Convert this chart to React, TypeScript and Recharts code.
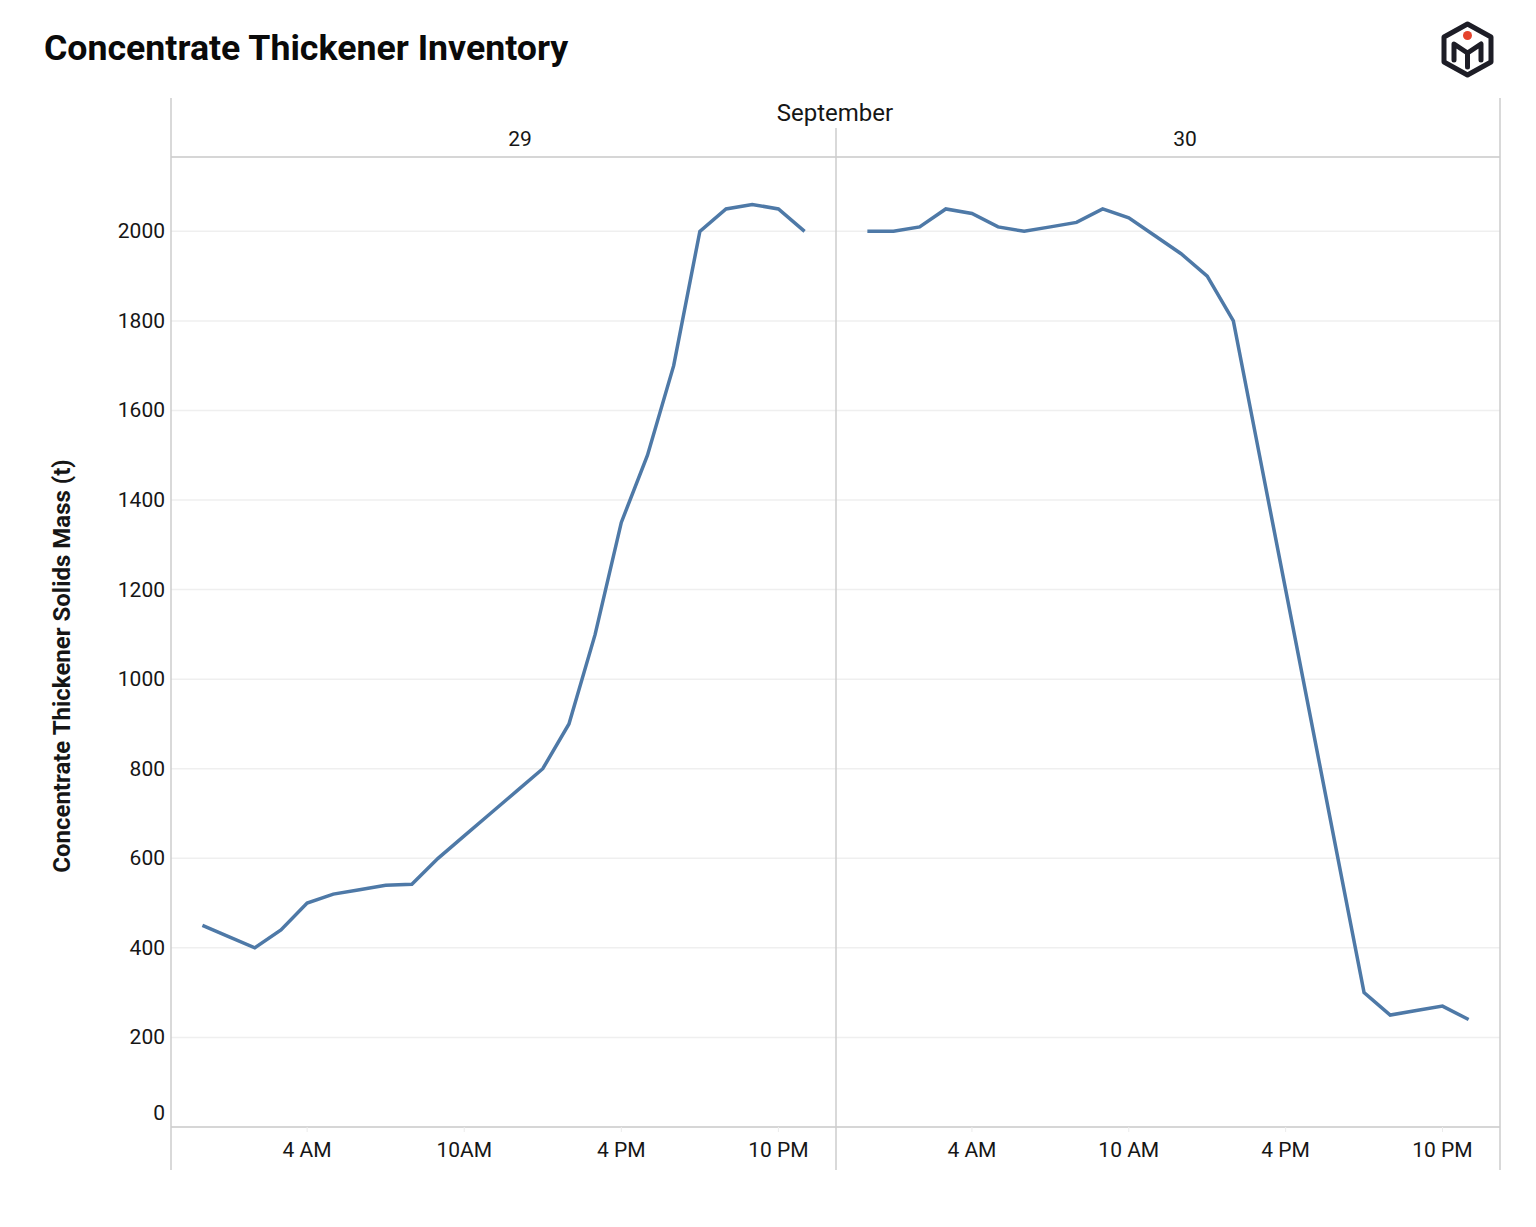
import React from 'react';
import { LineChart, Line, XAxis, YAxis, CartesianGrid } from 'recharts';

// Hour of day for each reading
const hours = [0, 1, 2, 3, 4, 5, 6, 7, 8, 9, 10, 11, 12, 13, 14, 15, 16, 17, 18, 19, 20, 21, 22, 23];

// Concentrate thickener solids mass (t), September 29
const sep29Mass = [450, 425, 400, 440, 500, 520, 530, 540, 542, 600, 650, 700, 750, 800, 900, 1100, 1350, 1500, 1700, 2000, 2050, 2060, 2050, 2000];

// Concentrate thickener solids mass (t), September 30
const sep30Mass = [2000, 2000, 2010, 2050, 2040, 2010, 2000, 2010, 2020, 2050, 2030, 1990, 1950, 1900, 1800, 1500, 1200, 900, 600, 300, 250, 260, 270, 240];

const yTicks = [0, 200, 400, 600, 800, 1000, 1200, 1400, 1600, 1800, 2000];
const xTicks = [4, 10, 16, 22];
const sep29TickLabels = ['4 AM', '10AM', '4 PM', '10 PM'];
const sep30TickLabels = ['4 AM', '10 AM', '4 PM', '10 PM'];

const panelHeaders = ['29', '30'];
const monthLabel = 'September';
const title = 'Concentrate Thickener Inventory';
const yLabel = 'Concentrate Thickener Solids Mass (t)';

const sep29Data = hours.map((h, i) => ({ hour: h, mass: sep29Mass[i] }));
const sep30Data = hours.map((h, i) => ({ hour: h, mass: sep30Mass[i] }));

const FONT = 'Roboto, "Noto Sans", Arial, sans-serif';
const TEXT = '#161616';
const LINE = '#4e79a7';
const RULE = '#cdcdcd';
const GRID = '#efefef';

const X_DOMAIN: [number, number] = [-1.2, 24.2];
const Y_DOMAIN: [number, number] = [0, 2166];

const YTick = (props: any) => {
  const { x, y, payload } = props;
  const yy = payload.value === 0 ? y - 14 : y;
  return (
    <text x={x} y={yy} textAnchor="end" dominantBaseline="central" fontSize={21} fontFamily={FONT} fill={TEXT}>
      {payload.value}
    </text>
  );
};

const Panel = ({ data, labels, showY, width, left }: any) => (
  <div style={{ position: 'absolute', left, top: 0 }}>
    <LineChart width={width} height={1227} data={data} margin={{ top: 157, right: 0, bottom: 0, left: 0 }}>
      <CartesianGrid horizontal vertical={false} stroke={GRID} strokeWidth={1.5} />
      <XAxis
        type="number"
        dataKey="hour"
        domain={X_DOMAIN}
        ticks={xTicks}
        interval={0}
        allowDataOverflow
        height={100}
        tickFormatter={(v: number) => labels[xTicks.indexOf(v)]}
        axisLine={{ stroke: RULE, strokeWidth: 1.5 }}
        tickLine={{ stroke: '#ececec' }}
        tickSize={5}
        tickMargin={10}
        tick={{ fill: TEXT, fontSize: 21, fontFamily: FONT }}
      />
      <YAxis
        type="number"
        domain={Y_DOMAIN}
        ticks={yTicks}
        interval={0}
        allowDataOverflow
        hide={!showY}
        width={showY ? 171 : 0}
        axisLine={false}
        tickLine={false}
        tickSize={0}
        tickMargin={6}
        tick={<YTick />}
      />
      <Line type="linear" dataKey="mass" stroke={LINE} strokeWidth={3.5} dot={false} isAnimationActive={false} />
    </LineChart>
  </div>
);

export default function App() {
  return (
    <div style={{ position: 'absolute', left: 0, top: 0, width: 1536, height: 1227, background: '#fff', overflow: 'hidden' }}>
      <Panel data={sep29Data} labels={sep29TickLabels} showY width={836} left={0} />
      <Panel data={sep30Data} labels={sep30TickLabels} showY={false} width={664} left={836} />
      <svg width={1536} height={1227} style={{ position: 'absolute', left: 0, top: 0, pointerEvents: 'none' }}>
        <text x={44} y={60} fontSize={35.7} fontWeight={700} fontFamily={FONT} fill="#0a0a0a">
          {title}
        </text>
        <text
          x={62}
          y={666}
          transform="rotate(-90, 62, 666)"
          textAnchor="middle"
          dominantBaseline="central"
          fontSize={24}
          fontWeight={700}
          fontFamily={FONT}
          fill={TEXT}
        >
          {yLabel}
        </text>
        <text x={835} y={113} textAnchor="middle" dominantBaseline="central" fontSize={24} fontFamily={FONT} fill={TEXT}>
          {monthLabel}
        </text>
        <text x={520} y={139} textAnchor="middle" dominantBaseline="central" fontSize={21} fontFamily={FONT} fill={TEXT}>
          {panelHeaders[0]}
        </text>
        <text x={1185} y={139} textAnchor="middle" dominantBaseline="central" fontSize={21} fontFamily={FONT} fill={TEXT}>
          {panelHeaders[1]}
        </text>
        <line x1={171} x2={1500} y1={157} y2={157} stroke={RULE} strokeWidth={1.5} />
        <line x1={171} x2={171} y1={98} y2={1170} stroke={RULE} strokeWidth={1.5} />
        <line x1={1500} x2={1500} y1={98} y2={1170} stroke={RULE} strokeWidth={1.5} />
        <line x1={836} x2={836} y1={128} y2={1170} stroke={RULE} strokeWidth={1.5} />
        {/* logo */}
        <g fill="none" stroke="#1d1d26" strokeWidth={5} strokeLinejoin="round" strokeLinecap="round">
          <polygon points="1467.5,24 1491,37 1491,62 1467.5,75 1444,62 1444,37" />
          <path d="M1454,60 L1454,44 L1467.5,53 L1481,44 L1481,60" />
          <path d="M1467.5,53 L1467.5,67" />
        </g>
        <circle cx={1467.5} cy={35.5} r={4.5} fill="#e5432d" />
      </svg>
    </div>
  );
}
